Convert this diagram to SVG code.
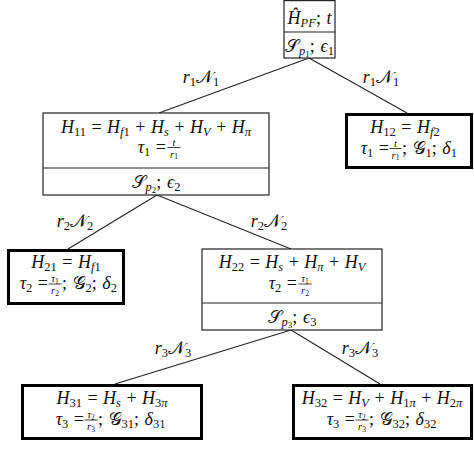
<svg xmlns="http://www.w3.org/2000/svg" width="474" height="460" viewBox="0 0 474 460">
<style>
.bg{fill:#fff}
.thin{fill:#fff;stroke:#222;stroke-width:1.2}
.thick{fill:#fff;stroke:#000;stroke-width:3}
.div{stroke:#222;stroke-width:1.2}
.edge{stroke:#222;stroke-width:1.1;fill:none}
text{font-family:"Liberation Serif","DejaVu Serif",serif;font-size:18px;fill:#111;word-spacing:1px}
.m{text-anchor:middle}
.e{text-anchor:end}
.i{font-style:italic}
.s{font-size:12.5px}
.ss{font-size:9px}
.fr{font-size:10.5px;font-style:italic;text-anchor:middle}
.fs{font-size:7.5px;font-style:normal}
.bar{stroke:#111;stroke-width:0.8}
.lbl{text-anchor:middle}
</style>
<rect class="bg" x="0" y="0" width="474" height="460"/>
<g id="connectors">
<line class="edge" x1="309" y1="58" x2="159" y2="113"/>
<line class="edge" x1="309" y1="58" x2="407" y2="113"/>
<line class="edge" x1="157" y1="195" x2="68" y2="249"/>
<line class="edge" x1="157" y1="195" x2="291" y2="249"/>
<line class="edge" x1="291" y1="330" x2="115" y2="384"/>
<line class="edge" x1="291" y1="330" x2="380" y2="384"/>
<text class="lbl" x="201" y="83"><tspan class="i">r</tspan><tspan class="s" dy="3">1</tspan><tspan dy="-3">𝒩</tspan><tspan class="s" dy="3">1</tspan></text>
<text class="lbl" x="381" y="83"><tspan class="i">r</tspan><tspan class="s" dy="3">1</tspan><tspan dy="-3">𝒩</tspan><tspan class="s" dy="3">1</tspan></text>
<text class="lbl" x="75" y="227"><tspan class="i">r</tspan><tspan class="s" dy="3">2</tspan><tspan dy="-3">𝒩</tspan><tspan class="s" dy="3">2</tspan></text>
<text class="lbl" x="269" y="227"><tspan class="i">r</tspan><tspan class="s" dy="3">2</tspan><tspan dy="-3">𝒩</tspan><tspan class="s" dy="3">2</tspan></text>
<text class="lbl" x="173" y="354"><tspan class="i">r</tspan><tspan class="s" dy="3">3</tspan><tspan dy="-3">𝒩</tspan><tspan class="s" dy="3">3</tspan></text>
<text class="lbl" x="360" y="354"><tspan class="i">r</tspan><tspan class="s" dy="3">3</tspan><tspan dy="-3">𝒩</tspan><tspan class="s" dy="3">3</tspan></text>
</g>
<g id="root">
<rect class="thin" x="284" y="0.6" width="51" height="57.4"/>
<line class="div" x1="284" y1="32" x2="335" y2="32"/>
<text class="m" x="309.5" y="24"><tspan class="i">Ĥ</tspan><tspan class="i s" dy="3">PF</tspan><tspan dy="-3">; </tspan><tspan class="i">t</tspan></text>
<text class="m" x="309.5" y="52"><tspan>𝒮</tspan><tspan class="i s" dy="3">p</tspan><tspan class="ss" dy="2">1</tspan><tspan dy="-5">; </tspan><tspan class="i">ϵ</tspan><tspan class="s" dy="3">1</tspan></text>
</g>
<g id="H11">
<rect class="thin" x="43" y="113" width="226" height="82"/>
<line class="div" x1="43" y1="168" x2="269" y2="168"/>
<text class="m" x="156" y="132.5"><tspan class="i">H</tspan><tspan class="s" dy="3">11</tspan><tspan dy="-3"> = </tspan><tspan class="i">H</tspan><tspan class="i s" dy="3">f</tspan><tspan class="s">1</tspan><tspan dy="-3"> + </tspan><tspan class="i">H</tspan><tspan class="i s" dy="3">s</tspan><tspan dy="-3"> + </tspan><tspan class="i">H</tspan><tspan class="i s" dy="3">V</tspan><tspan dy="-3"> + </tspan><tspan class="i">H</tspan><tspan class="i s" dy="3">π</tspan></text>
<text class="e" x="166" y="153"><tspan class="i">τ</tspan><tspan class="s" dy="3">1</tspan><tspan dy="-3"> =</tspan></text>
<text class="fr" x="174" y="145.5">t</text>
<line class="bar" x1="167.5" y1="147.5" x2="180.5" y2="147.5"/>
<text class="fr" x="174" y="157.5">r<tspan class="fs" dy="1.5">1</tspan></text>
<text class="m" x="156" y="188"><tspan>𝒮</tspan><tspan class="i s" dy="3">p</tspan><tspan class="ss" dy="2">2</tspan><tspan dy="-5">; </tspan><tspan class="i">ϵ</tspan><tspan class="s" dy="3">2</tspan></text>
</g>
<g id="H12">
<rect class="thick" x="346.5" y="114.5" width="125" height="53"/>
<text class="m" x="405" y="132.5"><tspan class="i">H</tspan><tspan class="s" dy="3">12</tspan><tspan dy="-3"> = </tspan><tspan class="i">H</tspan><tspan class="i s" dy="3">f</tspan><tspan class="s">2</tspan></text>
<text class="e" x="389" y="154"><tspan class="i">τ</tspan><tspan class="s" dy="3">1</tspan><tspan dy="-3"> =</tspan></text>
<text class="fr" x="395.5" y="146.5">t</text>
<line class="bar" x1="389.5" y1="148.5" x2="401.5" y2="148.5"/>
<text class="fr" x="395.5" y="158.5">r<tspan class="fs" dy="1.5">1</tspan></text>
<text x="402" y="154"><tspan>; 𝒢</tspan><tspan class="s" dy="3">1</tspan><tspan dy="-3">; </tspan><tspan class="i">δ</tspan><tspan class="s" dy="3">1</tspan></text>
</g>
<g id="H21">
<rect class="thick" x="8.5" y="250.5" width="115" height="53"/>
<text class="m" x="66" y="267.5"><tspan class="i">H</tspan><tspan class="s" dy="3">21</tspan><tspan dy="-3"> = </tspan><tspan class="i">H</tspan><tspan class="i s" dy="3">f</tspan><tspan class="s">1</tspan></text>
<text class="e" x="48" y="289"><tspan class="i">τ</tspan><tspan class="s" dy="3">2</tspan><tspan dy="-3"> =</tspan></text>
<text class="fr" x="55" y="282">τ<tspan class="fs" dy="1.5">1</tspan></text>
<line class="bar" x1="48.5" y1="284" x2="61.5" y2="284"/>
<text class="fr" x="55" y="294">r<tspan class="fs" dy="1.5">2</tspan></text>
<text x="62" y="289"><tspan>; 𝒢</tspan><tspan class="s" dy="3">2</tspan><tspan dy="-3">; </tspan><tspan class="i">δ</tspan><tspan class="s" dy="3">2</tspan></text>
</g>
<g id="H22">
<rect class="thin" x="202" y="249" width="180" height="81"/>
<line class="div" x1="202" y1="303" x2="382" y2="303"/>
<text class="m" x="292" y="267.5"><tspan class="i">H</tspan><tspan class="s" dy="3">22</tspan><tspan dy="-3"> = </tspan><tspan class="i">H</tspan><tspan class="i s" dy="3">s</tspan><tspan dy="-3"> + </tspan><tspan class="i">H</tspan><tspan class="i s" dy="3">π</tspan><tspan dy="-3"> + </tspan><tspan class="i">H</tspan><tspan class="i s" dy="3">V</tspan></text>
<text class="e" x="297" y="289"><tspan class="i">τ</tspan><tspan class="s" dy="3">2</tspan><tspan dy="-3"> =</tspan></text>
<text class="fr" x="305" y="282">τ<tspan class="fs" dy="1.5">1</tspan></text>
<line class="bar" x1="298.5" y1="284" x2="311.5" y2="284"/>
<text class="fr" x="305" y="294">r<tspan class="fs" dy="1.5">2</tspan></text>
<text class="m" x="292" y="323"><tspan>𝒮</tspan><tspan class="i s" dy="3">p</tspan><tspan class="ss" dy="2">3</tspan><tspan dy="-5">; </tspan><tspan class="i">ϵ</tspan><tspan class="s" dy="3">3</tspan></text>
</g>
<g id="H31">
<rect class="thick" x="22.5" y="385.5" width="179" height="53"/>
<text class="m" x="112" y="403.5"><tspan class="i">H</tspan><tspan class="s" dy="3">31</tspan><tspan dy="-3"> = </tspan><tspan class="i">H</tspan><tspan class="i s" dy="3">s</tspan><tspan dy="-3"> + </tspan><tspan class="i">H</tspan><tspan class="s" dy="3">3</tspan><tspan class="i s">π</tspan></text>
<text class="e" x="84" y="425"><tspan class="i">τ</tspan><tspan class="s" dy="3">3</tspan><tspan dy="-3"> =</tspan></text>
<text class="fr" x="91" y="418">τ<tspan class="fs" dy="1.5">2</tspan></text>
<line class="bar" x1="84.5" y1="420" x2="97.5" y2="420"/>
<text class="fr" x="91" y="430">r<tspan class="fs" dy="1.5">3</tspan></text>
<text x="98" y="425"><tspan>; 𝒢</tspan><tspan class="s" dy="3">31</tspan><tspan dy="-3">; </tspan><tspan class="i">δ</tspan><tspan class="s" dy="3">31</tspan></text>
</g>
<g id="H32">
<rect class="thick" x="293.5" y="385.5" width="178" height="53"/>
<text class="m" x="382" y="403.5"><tspan class="i">H</tspan><tspan class="s" dy="3">32</tspan><tspan dy="-3"> = </tspan><tspan class="i">H</tspan><tspan class="i s" dy="3">V</tspan><tspan dy="-3"> + </tspan><tspan class="i">H</tspan><tspan class="s" dy="3">1</tspan><tspan class="i s">π</tspan><tspan dy="-3"> + </tspan><tspan class="i">H</tspan><tspan class="s" dy="3">2</tspan><tspan class="i s">π</tspan></text>
<text class="e" x="355" y="425"><tspan class="i">τ</tspan><tspan class="s" dy="3">3</tspan><tspan dy="-3"> =</tspan></text>
<text class="fr" x="362" y="418">τ<tspan class="fs" dy="1.5">2</tspan></text>
<line class="bar" x1="355.5" y1="420" x2="368.5" y2="420"/>
<text class="fr" x="362" y="430">r<tspan class="fs" dy="1.5">3</tspan></text>
<text x="369" y="425"><tspan>; 𝒢</tspan><tspan class="s" dy="3">32</tspan><tspan dy="-3">; </tspan><tspan class="i">δ</tspan><tspan class="s" dy="3">32</tspan></text>
</g>
</svg>
